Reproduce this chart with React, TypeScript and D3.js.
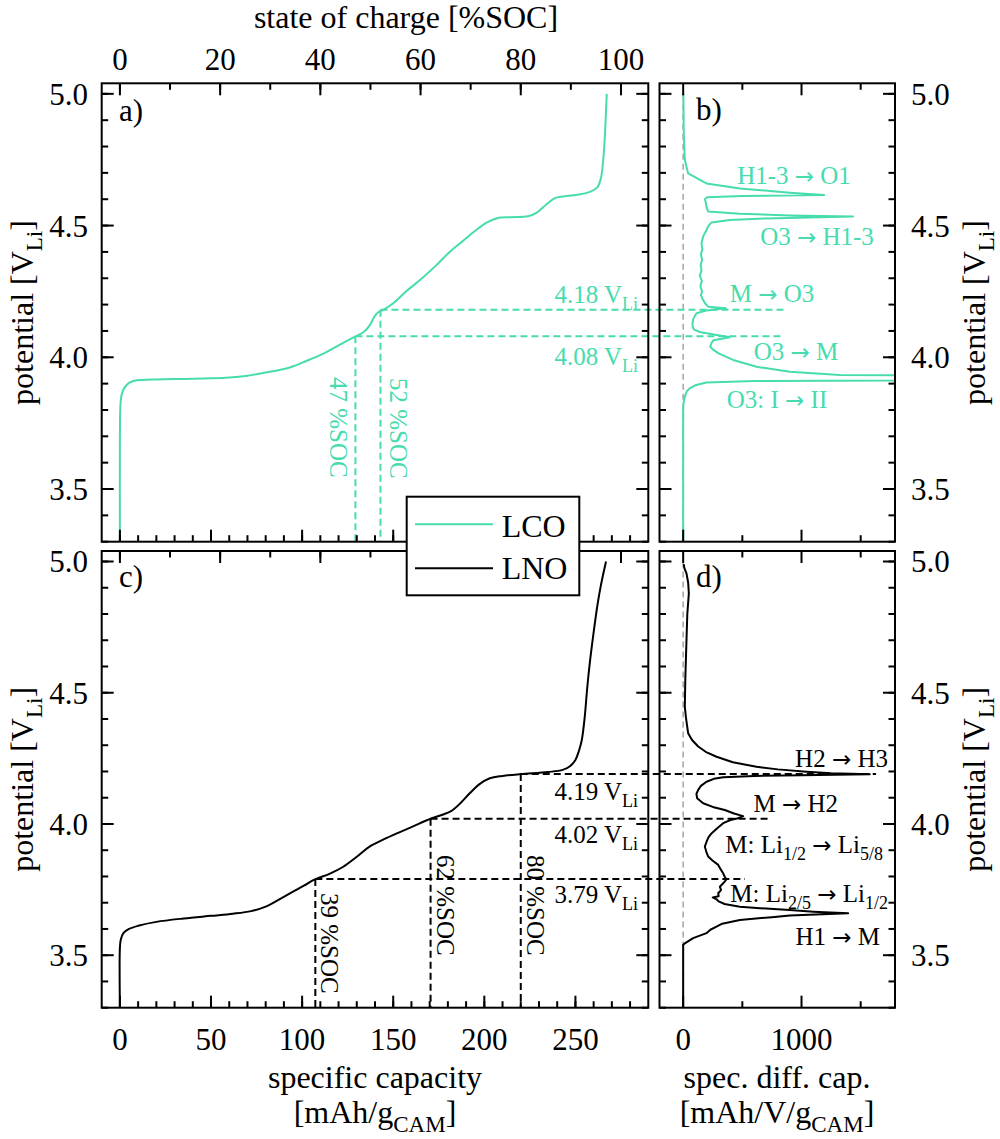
import React from 'react';
import * as d3 from 'd3';

const TEAL = '#47dcae';
const FONT = '"Liberation Serif", "Times New Roman", Times, serif';
const ARROW_FONT = '"DejaVu Sans", sans-serif';

// LCO charge curve: specific capacity [mAh/g] vs potential [V]
const lcoCapacity = [0, 0, 0.3, 1.0, 2.5, 5, 8, 12, 20, 35, 50, 60, 70, 79, 87, 94, 102, 112, 120, 129, 134, 137, 140, 142, 145, 150, 157, 165, 173, 181, 188, 195, 201, 207, 215, 224, 229, 234, 239, 245, 252, 258, 262, 264, 265, 266, 266.7, 267.2];
const lcoVoltage = [3.30, 3.70, 3.82, 3.86, 3.885, 3.903, 3.911, 3.914, 3.916, 3.918, 3.920, 3.923, 3.930, 3.941, 3.951, 3.963, 3.985, 4.015, 4.045, 4.078, 4.097, 4.120, 4.158, 4.172, 4.182, 4.205, 4.25, 4.295, 4.345, 4.40, 4.44, 4.48, 4.51, 4.528, 4.532, 4.535, 4.55, 4.58, 4.605, 4.612, 4.618, 4.628, 4.645, 4.68, 4.73, 4.82, 4.92, 5.0];

// LNO charge curve
const lnoCapacity = [0, 0, 0.5, 2, 5, 10, 20, 35, 50, 62, 72, 80, 88, 95, 101, 107, 115, 122.6, 130, 137, 145, 152, 160, 170.5, 177, 182, 187, 192, 197, 203, 210, 220, 235, 243, 247, 250, 252, 253.5, 255, 256.5, 258, 260, 262, 264, 266.8];
const lnoVoltage = [3.30, 3.53, 3.56, 3.585, 3.60, 3.612, 3.627, 3.64, 3.65, 3.658, 3.668, 3.685, 3.715, 3.742, 3.765, 3.789, 3.81, 3.837, 3.875, 3.914, 3.942, 3.964, 3.988, 4.02, 4.035, 4.05, 4.08, 4.117, 4.15, 4.174, 4.183, 4.19, 4.198, 4.206, 4.22, 4.244, 4.28, 4.32, 4.40, 4.52, 4.62, 4.73, 4.83, 4.91, 5.0];

// LCO differential capacity: potential [V] vs dQ/dV [mAh/V/g]
const lcoDqdvVoltage = [3.30, 3.80, 3.826, 3.85, 3.87, 3.882, 3.895, 3.904, 3.910, 3.920, 3.933, 3.945, 3.964, 3.99, 4.015, 4.03, 4.04, 4.055, 4.065, 4.076, 4.085, 4.095, 4.104, 4.115, 4.129, 4.145, 4.158, 4.167, 4.178, 4.186, 4.192, 4.205, 4.217, 4.235, 4.25, 4.27, 4.29, 4.31, 4.33, 4.35, 4.37, 4.39, 4.41, 4.433, 4.46, 4.483, 4.50, 4.512, 4.521, 4.527, 4.534, 4.538, 4.545, 4.553, 4.571, 4.59, 4.60, 4.607, 4.612, 4.616, 4.625, 4.641, 4.66, 4.698, 4.749, 4.85, 5.0];
const lcoDqdv = [0, 0, 3, 14, 30, 55, 110, 197, 605, 6000, 1323, 901, 620, 422, 300, 250, 229, 240, 257, 394, 282, 150, 96, 80, 79, 85, 100, 113, 200, 361, 211, 185, 169, 150, 160, 145, 158, 140, 155, 148, 160, 150, 162, 155, 170, 197, 215, 240, 394, 700, 1436, 901, 479, 211, 197, 190, 183, 200, 500, 1191, 901, 479, 197, 42, 14, 5, 2];

// LNO differential capacity
const lnoDqdvVoltage = [3.30, 3.54, 3.545, 3.565, 3.584, 3.597, 3.609, 3.62, 3.634, 3.645, 3.651, 3.660, 3.666, 3.672, 3.679, 3.685, 3.695, 3.705, 3.713, 3.72, 3.725, 3.736, 3.748, 3.761, 3.775, 3.789, 3.80, 3.812, 3.825, 3.844, 3.86, 3.876, 3.895, 3.914, 3.935, 3.95, 3.964, 3.985, 4.003, 4.015, 4.022, 4.030, 4.04, 4.053, 4.065, 4.079, 4.098, 4.115, 4.13, 4.145, 4.161, 4.172, 4.178, 4.183, 4.186, 4.189, 4.193, 4.199, 4.208, 4.218, 4.235, 4.256, 4.275, 4.295, 4.32, 4.346, 4.40, 4.447, 4.55, 4.701, 4.80, 4.879, 4.92, 4.955, 4.975, 4.99];
const lnoDqdv = [0, 0, 14, 84, 197, 230, 282, 330, 479, 750, 901, 1394, 1100, 901, 650, 479, 350, 300, 282, 250, 300, 296, 320, 310, 340, 366, 350, 338, 320, 296, 250, 211, 195, 183, 200, 215, 239, 290, 338, 400, 464, 507, 430, 352, 250, 169, 118, 112, 127, 150, 197, 260, 338, 600, 1000, 1577, 1250, 1042, 800, 620, 420, 282, 190, 127, 75, 42, 25, 14, 18, 28, 35, 48, 42, 28, 10, 5];

// Phase transition markers
const lcoMarkerSoc = [47, 52];
const lcoMarkerVoltage = [4.08, 4.18];
const lcoMarkerDqEnd = [850, 850];
const lnoMarkerSoc = [39, 62, 80];
const lnoMarkerVoltage = [3.79, 4.02, 4.19];
const lnoMarkerDqEnd = [521, 717, 1630];

// Axis ticks
const voltageMajor = [3.5, 4.0, 4.5, 5.0];
const voltageMinor = d3.range(33, 51).map((v) => v / 10);
const capacityMajor = [0, 50, 100, 150, 200, 250];
const capacityMinor = d3.range(0, 291, 10);
const socMajor = [0, 20, 40, 60, 80, 100];
const socMinor = d3.range(0, 101, 10);
const dqMajor = [0, 1000];
const dqMinor = [500, 1500];

const CAP_PER_SOC = 2.75; // mAh/g per %SOC

const colL = { left: 101.7, right: 648.3 };
const colR = { left: 659.5, right: 895 };
const rowT = { top: 83.3, bottom: 541.7 };
const rowB = { top: 551, bottom: 1007.7 };

const capX = d3.scaleLinear().domain([-10, 290]).range([colL.left, colL.right]);
const socX = d3.scaleLinear().domain([0, 100]).range([capX(0), capX(100 * CAP_PER_SOC)]);
const dqX = d3.scaleLinear().domain([-200, 1790]).range([colR.left, colR.right]);
const vTop = d3.scaleLinear().domain([3.3, 5.04]).range([rowT.bottom, rowT.top]);
const vBot = d3.scaleLinear().domain([3.3, 5.04]).range([rowB.bottom, rowB.top]);

const MAJ = 12;
const MIN = 6.5;

type Seg = [string, boolean?];

// Text with subscripts; arrows are set in a font with a long arrow glyph
function Rich(props: {
  x?: number; y?: number; segs: Seg[]; size: number; anchor?: string; fill?: string; transform?: string;
}) {
  const { x = 0, y = 0, segs, size, anchor = 'start', fill = '#000', transform } = props;
  const subSize = size * 0.72;
  const shift = size * 0.28;
  let inSub = false;
  const parts: JSX.Element[] = [];
  segs.forEach(([t, s], i) => {
    let dy = 0;
    if (s && !inSub) dy = shift;
    else if (!s && inSub) dy = -shift;
    inSub = !!s;
    const pieces = t.split('→');
    pieces.forEach((p, j) => {
      if (j > 0) {
        parts.push(
          <tspan key={`${i}-a${j}`} fontFamily={ARROW_FONT} fontSize={size * 0.92}>→</tspan>
        );
      }
      if (p.length) {
        parts.push(
          <tspan key={`${i}-${j}`} dy={j === 0 && dy ? dy : undefined} fontSize={s ? subSize : undefined}>{p}</tspan>
        );
      } else if (j === 0 && dy) {
        parts.push(<tspan key={`${i}-${j}`} dy={dy}>{'\u200b'}</tspan>);
      }
    });
  });
  return (
    <text x={x} y={y} fontSize={size} textAnchor={anchor} fill={fill} transform={transform} fontFamily={FONT}>
      {parts}
    </text>
  );
}

function Frame({ col, row, xScale, xMajor, xMinor, topScale, topMajor, topMinor, vScale }: any) {
  const lines: JSX.Element[] = [];
  let k = 0;
  const add = (x1: number, y1: number, x2: number, y2: number) =>
    lines.push(<line key={k++} x1={x1} y1={y1} x2={x2} y2={y2} />);
  xMinor.forEach((v: number) => { const x = xScale(v); if (x > col.left + 1 && x < col.right - 1) add(x, row.bottom, x, row.bottom - MIN); });
  xMajor.forEach((v: number) => { const x = xScale(v); add(x, row.bottom, x, row.bottom - MAJ); });
  topMinor.forEach((v: number) => { const x = topScale(v); if (x > col.left + 1 && x < col.right - 1) add(x, row.top, x, row.top + MIN); });
  topMajor.forEach((v: number) => { const x = topScale(v); add(x, row.top, x, row.top + MAJ); });
  voltageMinor.forEach((v) => { const y = vScale(v); add(col.left, y, col.left + MIN, y); add(col.right, y, col.right - MIN, y); });
  voltageMajor.forEach((v) => { const y = vScale(v); add(col.left, y, col.left + MAJ, y); add(col.right, y, col.right - MAJ, y); });
  return (
    <g stroke="#000" strokeWidth={2}>
      {lines}
      <rect x={col.left} y={row.top} width={col.right - col.left} height={row.bottom - row.top} fill="none" />
    </g>
  );
}

export default function App() {
  const capLine = (vs: d3.ScaleLinear<number, number>) =>
    d3.line<[number, number]>().x((d) => capX(d[0])).y((d) => vs(d[1])).curve(d3.curveCatmullRom.alpha(0.5));
  const dqLine = (vs: d3.ScaleLinear<number, number>) =>
    d3.line<[number, number]>().x((d) => dqX(d[1])).y((d) => vs(d[0]));

  const lcoCurve = lcoCapacity.map((c, i) => [c, lcoVoltage[i]] as [number, number]);
  const lnoCurve = lnoCapacity.map((c, i) => [c, lnoVoltage[i]] as [number, number]);
  const lcoDiff = lcoDqdvVoltage.map((v, i) => [v, lcoDqdv[i]] as [number, number]);
  const lnoDiff = lnoDqdvVoltage.map((v, i) => [v, lnoDqdv[i]] as [number, number]);

  const T = 31; // tick label size
  const A = 25; // annotation size

  return (
    <svg width={1000} height={1139} style={{ position: 'absolute', left: 0, top: 0, background: '#fff' }} fontFamily={FONT}>
      <defs>
        <clipPath id="clipB"><rect x={colR.left} y={rowT.top} width={colR.right - colR.left} height={rowT.bottom - rowT.top} /></clipPath>
        <clipPath id="clipD"><rect x={colR.left} y={rowB.top} width={colR.right - colR.left} height={rowB.bottom - rowB.top} /></clipPath>
      </defs>
      <rect x={0} y={0} width={1000} height={1139} fill="#fff" />

      {/* zero reference lines of the differential capacity panels */}
      <line x1={dqX(0)} x2={dqX(0)} y1={vTop(5.0)} y2={rowT.bottom} stroke="#aaa" strokeWidth={1.6} strokeDasharray="6,4" />
      <line x1={dqX(0)} x2={dqX(0)} y1={vBot(5.0)} y2={rowB.bottom} stroke="#aaa" strokeWidth={1.6} strokeDasharray="6,4" />

      {/* marker lines, LCO */}
      <g stroke={TEAL} strokeWidth={2} strokeDasharray="7,4" fill="none">
        {lcoMarkerSoc.map((s, i) => (
          <g key={i}>
            <line x1={capX(s * CAP_PER_SOC)} x2={capX(s * CAP_PER_SOC)} y1={vTop(lcoMarkerVoltage[i])} y2={rowT.bottom} />
            <line x1={capX(s * CAP_PER_SOC)} x2={dqX(lcoMarkerDqEnd[i])} y1={vTop(lcoMarkerVoltage[i])} y2={vTop(lcoMarkerVoltage[i])} />
          </g>
        ))}
      </g>
      {/* marker lines, LNO */}
      <g stroke="#000" strokeWidth={2} strokeDasharray="7,4" fill="none">
        {lnoMarkerSoc.map((s, i) => (
          <g key={i}>
            <line x1={capX(s * CAP_PER_SOC)} x2={capX(s * CAP_PER_SOC)} y1={vBot(lnoMarkerVoltage[i])} y2={rowB.bottom} />
            <line x1={capX(s * CAP_PER_SOC)} x2={dqX(lnoMarkerDqEnd[i])} y1={vBot(lnoMarkerVoltage[i])} y2={vBot(lnoMarkerVoltage[i])} />
          </g>
        ))}
      </g>

      {/* curves */}
      <path d={capLine(vTop)(lcoCurve) || ''} fill="none" stroke={TEAL} strokeWidth={2} />
      <path d={capLine(vBot)(lnoCurve) || ''} fill="none" stroke="#000" strokeWidth={2} />
      <g clipPath="url(#clipB)">
        <path d={dqLine(vTop)(lcoDiff) || ''} fill="none" stroke={TEAL} strokeWidth={2} strokeLinejoin="round" />
      </g>
      <g clipPath="url(#clipD)">
        <path d={dqLine(vBot)(lnoDiff) || ''} fill="none" stroke="#000" strokeWidth={2} strokeLinejoin="round" />
      </g>

      {/* frames with inward ticks */}
      <Frame col={colL} row={rowT} xScale={capX} xMajor={capacityMajor} xMinor={capacityMinor} topScale={socX} topMajor={socMajor} topMinor={socMinor} vScale={vTop} />
      <Frame col={colL} row={rowB} xScale={capX} xMajor={capacityMajor} xMinor={capacityMinor} topScale={socX} topMajor={socMajor} topMinor={socMinor} vScale={vBot} />
      <Frame col={colR} row={rowT} xScale={dqX} xMajor={dqMajor} xMinor={dqMinor} topScale={dqX} topMajor={dqMajor} topMinor={dqMinor} vScale={vTop} />
      <Frame col={colR} row={rowB} xScale={dqX} xMajor={dqMajor} xMinor={dqMinor} topScale={dqX} topMajor={dqMajor} topMinor={dqMinor} vScale={vBot} />

      {/* tick labels */}
      <g fontSize={T} fill="#000">
        {voltageMajor.map((v) => (
          <g key={v}>
            <text x={88} y={vTop(v) + 11} textAnchor="end">{v.toFixed(1)}</text>
            <text x={88} y={vBot(v) + 11} textAnchor="end">{v.toFixed(1)}</text>
            <text x={911} y={vTop(v) + 11}>{v.toFixed(1)}</text>
            <text x={911} y={vBot(v) + 11}>{v.toFixed(1)}</text>
          </g>
        ))}
        {socMajor.map((s) => (
          <text key={s} x={socX(s)} y={70} textAnchor="middle">{s}</text>
        ))}
        {capacityMajor.map((c) => (
          <text key={c} x={capX(c)} y={1050} textAnchor="middle">{c}</text>
        ))}
        {dqMajor.map((c) => (
          <text key={c} x={dqX(c)} y={1050} textAnchor="middle">{c}</text>
        ))}
      </g>

      {/* axis titles */}
      <text x={406} y={28} fontSize={32} textAnchor="middle">state of charge [%SOC]</text>
      <text x={375} y={1088} fontSize={32} textAnchor="middle">specific capacity</text>
      <Rich x={375} y={1123} size={32} anchor="middle" segs={[['[mAh/g'], ['CAM', true], [']']]} />
      <text x={777} y={1088} fontSize={32} textAnchor="middle">spec. diff. cap.</text>
      <Rich x={777} y={1123} size={32} anchor="middle" segs={[['[mAh/V/g'], ['CAM', true], [']']]} />
      {[(rowT.top + rowT.bottom) / 2, (rowB.top + rowB.bottom) / 2].map((cy, i) => (
        <g key={i}>
          <Rich transform={`translate(33,${cy}) rotate(-90)`} size={32} anchor="middle" segs={[['potential [V'], ['Li', true], [']']]} />
          <Rich transform={`translate(985,${cy}) rotate(-90)`} size={32} anchor="middle" segs={[['potential [V'], ['Li', true], [']']]} />
        </g>
      ))}

      {/* panel letters */}
      <g fontSize={31}>
        <text x={119} y={121}>a)</text>
        <text x={696} y={120}>b)</text>
        <text x={119} y={587}>c)</text>
        <text x={696} y={587}>d)</text>
      </g>

      {/* LCO annotations */}
      <Rich x={638} y={303} size={A} anchor="end" fill={TEAL} segs={[[`${lcoMarkerVoltage[1].toFixed(2)} V`], ['Li', true]]} />
      <Rich x={638} y={365} size={A} anchor="end" fill={TEAL} segs={[[`${lcoMarkerVoltage[0].toFixed(2)} V`], ['Li', true]]} />
      <text transform="translate(330,377) rotate(90)" fontSize={A} fill={TEAL}>{`${lcoMarkerSoc[0]} %SOC`}</text>
      <text transform="translate(390,378) rotate(90)" fontSize={A} fill={TEAL}>{`${lcoMarkerSoc[1]} %SOC`}</text>
      <Rich x={794} y={184} size={A} anchor="middle" fill={TEAL} segs={[['H1-3 → O1']]} />
      <Rich x={817} y={245} size={A} anchor="middle" fill={TEAL} segs={[['O3 → H1-3']]} />
      <Rich x={772} y={302} size={A} anchor="middle" fill={TEAL} segs={[['M → O3']]} />
      <Rich x={796} y={360} size={A} anchor="middle" fill={TEAL} segs={[['O3 → M']]} />
      <Rich x={777} y={408} size={A} anchor="middle" fill={TEAL} segs={[['O3: I → II']]} />

      {/* LNO annotations */}
      <Rich x={638} y={800} size={A} anchor="end" segs={[[`${lnoMarkerVoltage[2].toFixed(2)} V`], ['Li', true]]} />
      <Rich x={638} y={843} size={A} anchor="end" segs={[[`${lnoMarkerVoltage[1].toFixed(2)} V`], ['Li', true]]} />
      <Rich x={638} y={903} size={A} anchor="end" segs={[[`${lnoMarkerVoltage[0].toFixed(2)} V`], ['Li', true]]} />
      <text transform="translate(321,893) rotate(90)" fontSize={A}>{`${lnoMarkerSoc[0]} %SOC`}</text>
      <text transform="translate(437,855) rotate(90)" fontSize={A}>{`${lnoMarkerSoc[1]} %SOC`}</text>
      <text transform="translate(527,855) rotate(90)" fontSize={A}>{`${lnoMarkerSoc[2]} %SOC`}</text>
      <Rich x={888} y={767} size={A} anchor="end" segs={[['H2 → H3']]} />
      <Rich x={838} y={812} size={A} anchor="end" segs={[['M → H2']]} />
      <Rich x={883} y={853} size={A} anchor="end" segs={[['M: Li'], ['1/2', true], [' → Li'], ['5/8', true]]} />
      <Rich x={888} y={902} size={A} anchor="end" segs={[['M: Li'], ['2/5', true], [' → Li'], ['1/2', true]]} />
      <Rich x={880} y={945} size={A} anchor="end" segs={[['H1 → M']]} />

      {/* legend */}
      <rect x={406.7} y={496.7} width={172.6} height={98.6} fill="#fff" stroke="#000" strokeWidth={2} />
      <line x1={415} x2={493} y1={524.3} y2={524.3} stroke={TEAL} strokeWidth={2} />
      <line x1={415} x2={493} y1={568.3} y2={568.3} stroke="#000" strokeWidth={2} />
      <text x={501.7} y={536.7} fontSize={32}>LCO</text>
      <text x={501.7} y={579.3} fontSize={32}>LNO</text>
    </svg>
  );
}
